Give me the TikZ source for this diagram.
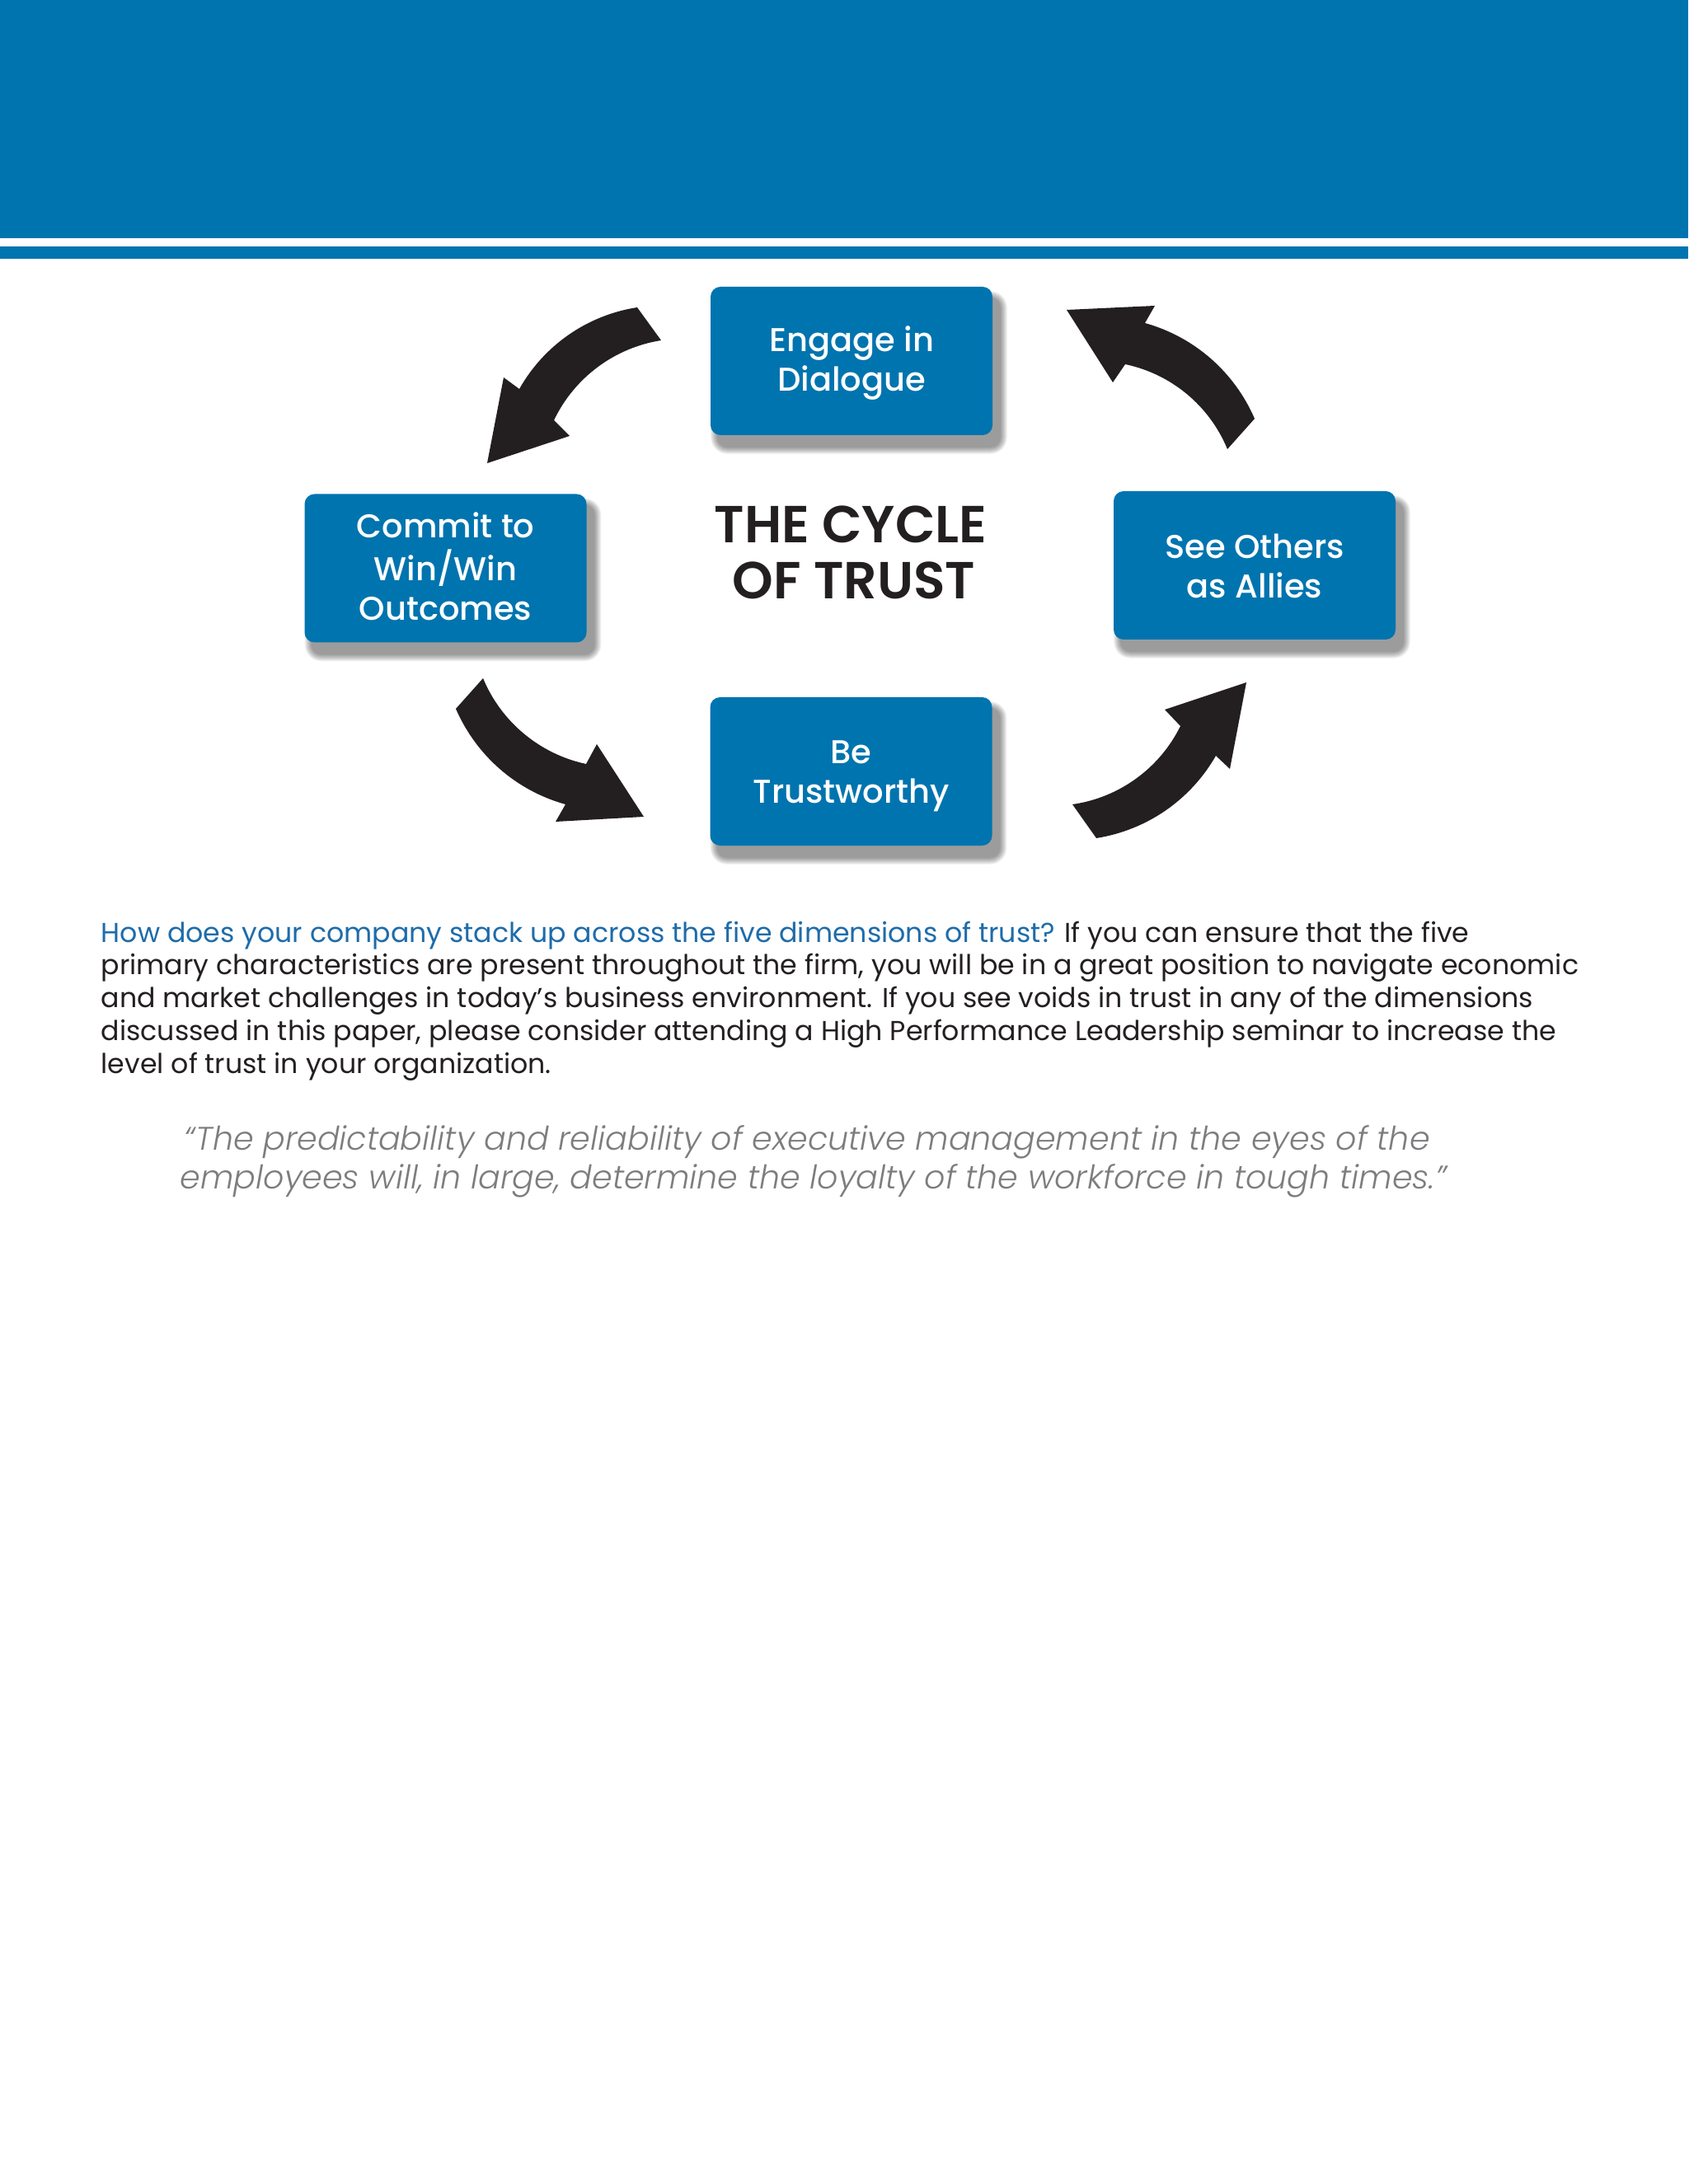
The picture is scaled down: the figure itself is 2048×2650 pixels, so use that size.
\documentclass[tikz,border=0pt]{standalone}
\usepackage{fontspec}
\setmainfont{Poppins}
\newfontfamily\medfont{Poppins Medium}
\newfontfamily\semifont{Poppins SemiBold}
\newfontfamily\qfont{Poppins Light Italic}
\definecolor{tblue}{RGB}{0,116,175}
\definecolor{lblue}{RGB}{30,108,170}
\definecolor{ink}{RGB}{35,31,32}
\definecolor{qgray}{RGB}{125,125,128}
\pgfdeclarelayer{back}
\pgfdeclarelayer{shade}
\pgfsetlayers{back,shade,main}
\newcommand\boxlines[2]{\raisebox{#1}[\height][\depth]{\begin{tabular}{@{}c@{}}#2\end{tabular}}}
\begin{document}
\begin{tikzpicture}[x=0.25pt,y=-0.25pt,
  tbox/.style={fill=tblue, rounded corners=3pt, minimum width=85.5pt, minimum height=45pt,
    inner sep=0pt, text=white, align=center, font=\medfont\fontsize{10}{12}\selectfont},
  arrowshape/.style={fill=ink},
  titleline/.style={anchor=base, inner sep=0pt, text=ink, font=\semifont\fontsize{15.8}{17}\selectfont},
  bodyline/.style={anchor=base west, inner sep=0pt, text=ink, font=\fontsize{8.3}{10}\selectfont},
  quoteline/.style={anchor=base west, inner sep=0pt, text=qgray, font=\qfont\fontsize{9.9}{12}\selectfont}]

\useasboundingbox (0,0) rectangle (2048,2650);
\begin{pgfonlayer}{back}
\fill[white] (0,0) rectangle (2048,2650);
\end{pgfonlayer}

% header band
\fill[tblue] (0,0) rectangle (2048,289);
\fill[tblue] (0,299) rectangle (2048,314);

% boxes
\node[tbox] (engage) at (1033,438) {\boxlines{-0.7pt}{Engage in\\Dialogue}};
\node[tbox] (commit) at (540.5,689.5) {\boxlines{-0.8pt}{Commit to\\Win/Win\\Outcomes}};
\node[tbox] (allies) at (1522,686) {\boxlines{-1.4pt}{See Others\\as Allies}};
\node[tbox] (trust) at (1032.5,936) {\boxlines{-1.2pt}{Be\\Trustworthy}};

% shadows
\begin{pgfonlayer}{shade}
\foreach \n in {engage,commit,allies,trust}{
  \foreach \i in {0,...,8}{
    \pgfmathsetmacro\rr{3+\i*0.25}
    \fill[black, opacity=0.05, rounded corners=\rr pt]
      ([shift={(9-\i,14+\i)}]\n.south west) rectangle ([shift={(9+\i,14-\i)}]\n.north east);
  }
}
\end{pgfonlayer}

% title
\node[titleline] (title1) at (1032,659) {THE CYCLE};
\node[titleline] (title2) at (1036,727) {OF TRUST};

% arrows
\fill[arrowshape] (773,373) .. controls (712.6,382.4) and (660,418.8) .. (630,472) -- (611,458) -- (591,562)
  -- (691,529) -- (672,510) .. controls (696.6,458.3) and (745.4,421.9) .. (802,413) -- cycle;
\fill[arrowshape] (1294,376) -- (1401,371) -- (1389,392) .. controls (1448.7,408.7) and (1497.3,451.1) .. (1522,508)
  -- (1489,545) .. controls (1467.3,492.3) and (1420.9,453.7) .. (1365,442) -- (1350,464) -- cycle;
\fill[arrowshape] (586,823) .. controls (608.1,876.1) and (654.7,914.9) .. (711,927) -- (724,903) -- (781,991)
  -- (674,997) -- (686,976) .. controls (626.3,959.3) and (577.7,916.9) .. (553,860) -- cycle;
\fill[arrowshape] (1330,1017) .. controls (1391.3,1007.2) and (1444.1,970.8) .. (1475,917) -- (1492,933)
  -- (1512,828) -- (1413,861) -- (1432,881) .. controls (1406.7,932.3) and (1357.7,967.9) .. (1301,976) -- cycle;

% body text
\node[bodyline] (b1) at (122,1143) {{\color{lblue}How does your company stack up across the five dimensions of trust?} If you can ensure that the five};
\node[bodyline] (b2) at (122,1182) {primary characteristics are present throughout the firm, you will be in a great position to navigate economic};
\node[bodyline] (b3) at (122,1222) {and market challenges in today’s business environment. If you see voids in trust in any of the dimensions};
\node[bodyline] (b4) at (122,1262) {discussed in this paper, please consider attending a High Performance Leadership seminar to increase the};
\node[bodyline] (b5) at (122,1302) {level of trust in your organization.};

% quote
\node[quoteline] (q1) at (223,1395) {“The predictability and reliability of executive management in the eyes of the};
\node[quoteline] (q2) at (218,1442) {employees will, in large, determine the loyalty of the workforce in tough times.”};
\end{tikzpicture}
\end{document}
